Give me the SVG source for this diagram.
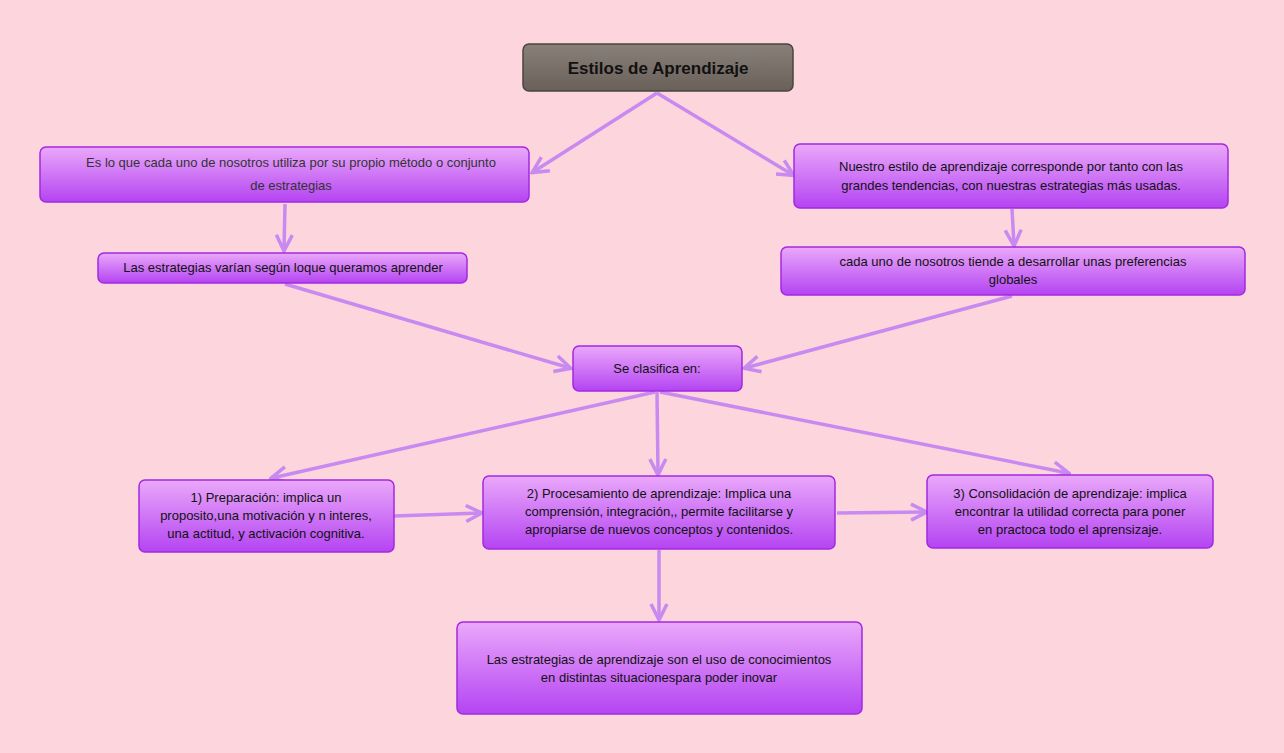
<svg xmlns="http://www.w3.org/2000/svg" width="1284" height="753" viewBox="0 0 1284 753">
<defs>
<linearGradient id="pg" x1="0" y1="0" x2="0" y2="1"><stop offset="0" stop-color="#eaa8fa"/><stop offset="1" stop-color="#b444f2"/></linearGradient>
<linearGradient id="gg" x1="0" y1="0" x2="0" y2="1"><stop offset="0" stop-color="#8a807a"/><stop offset="1" stop-color="#6a605a"/></linearGradient>
<marker id="ar" viewBox="0 0 20 20" refX="17" refY="10" markerWidth="20" markerHeight="20" markerUnits="userSpaceOnUse" orient="auto"><path d="M2,2 L18,10 L2,18" fill="none" stroke="#c88af0" stroke-width="3.5"/></marker>
</defs>
<style>
.n{fill:url(#pg);stroke:#a428e0;stroke-width:1.5}
text{font-family:"Liberation Sans",Arial,sans-serif;font-size:13px;fill:#111;text-anchor:middle}
.c line{stroke:#c88af0;stroke-width:3.5;marker-end:url(#ar)}
</style>
<rect width="1284" height="753" fill="#fdd5dd"/>
<g class="c">
<line x1="657" y1="93" x2="533" y2="172"/>
<line x1="657" y1="93" x2="793" y2="175"/>
<line x1="285" y1="204" x2="284" y2="250"/>
<line x1="1012" y1="209" x2="1014" y2="245"/>
<line x1="285" y1="284" x2="570" y2="368"/>
<line x1="1012" y1="296" x2="745" y2="368"/>
<line x1="655" y1="392" x2="272" y2="478"/>
<line x1="657" y1="392" x2="658" y2="474"/>
<line x1="660" y1="392" x2="1068" y2="473"/>
<line x1="394" y1="516" x2="481" y2="513"/>
<line x1="837" y1="513" x2="926" y2="512"/>
<line x1="659" y1="550" x2="659" y2="619"/>
</g>
<g id="n0"><rect x="523" y="44" width="270" height="47" rx="6" fill="url(#gg)" stroke="#4a4440" stroke-width="1.5"/><text x="658" y="74" style="font-size:17px;font-weight:bold">Estilos de Aprendizaje</text></g>
<g id="n1"><rect class="n" x="40" y="147" width="489" height="55" rx="6"/><text x="291" y="167" style="fill:#333">Es lo que cada uno de nosotros utiliza por su propio método o conjunto</text><text x="291" y="190" style="fill:#333">de estrategias</text></g>
<g id="n2"><rect class="n" x="794" y="144" width="434" height="64" rx="6"/><text x="1011" y="171">Nuestro estilo de aprendizaje corresponde por tanto con las</text><text x="1011" y="190">grandes tendencias, con nuestras estrategias más usadas.</text></g>
<g id="n3"><rect class="n" x="98" y="253" width="369" height="30" rx="6"/><text x="283" y="272">Las estrategias varían según loque queramos aprender</text></g>
<g id="n4"><rect class="n" x="781" y="247" width="464" height="48" rx="6"/><text x="1013" y="266">cada uno de nosotros tiende a desarrollar unas preferencias</text><text x="1013" y="284">globales</text></g>
<g id="n5"><rect class="n" x="573" y="346" width="169" height="45" rx="6"/><text x="657" y="373">Se clasifica en:</text></g>
<g id="n6"><rect class="n" x="139" y="480" width="255" height="72" rx="6"/><text x="266" y="502">1) Preparación:  implica un</text><text x="266" y="520">proposito,una motivación y n interes,</text><text x="266" y="538">una actitud, y activación cognitiva.</text></g>
<g id="n7"><rect class="n" x="483" y="476" width="352" height="73" rx="6"/><text x="659" y="498">2) Procesamiento de aprendizaje: Implica una</text><text x="659" y="516">comprensión, integración,, permite facilitarse y</text><text x="659" y="534">apropiarse de nuevos conceptos y contenidos.</text></g>
<g id="n8"><rect class="n" x="927" y="475" width="286" height="73" rx="6"/><text x="1070" y="498">3) Consolidación de aprendizaje: implica</text><text x="1070" y="516">encontrar la utilidad  correcta para poner</text><text x="1070" y="534">en practoca todo el aprensizaje.</text></g>
<g id="n9"><rect class="n" x="457" y="622" width="405" height="92" rx="6"/><text x="659" y="664">Las estrategias de aprendizaje son el uso de conocimientos</text><text x="659" y="682">en distintas situacionespara poder inovar</text></g>
</svg>
